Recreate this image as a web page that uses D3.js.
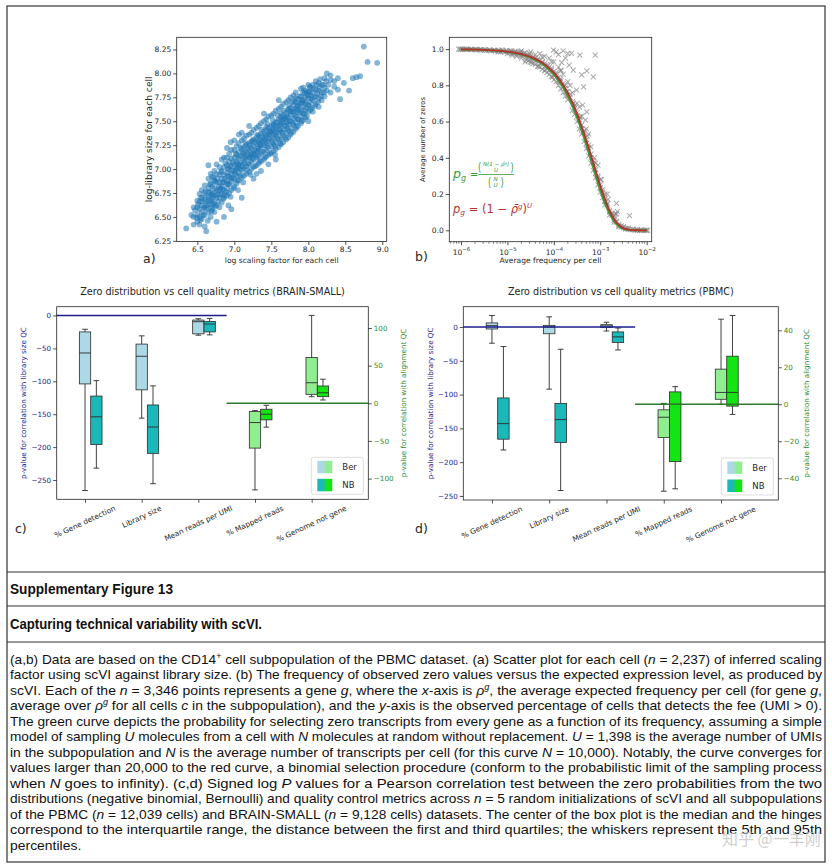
<!DOCTYPE html>
<html><head><meta charset="utf-8">
<script src="https://cdn.jsdelivr.net/npm/d3@7"></script>
<style>html,body{margin:0;padding:0;background:#fff}svg{display:block}</style>
</head><body>
<svg id="fig" width="832" height="868" xmlns="http://www.w3.org/2000/svg"></svg>
<script>
// ================= DATA =================
// (a) scatter: columns of [log scaling factor, [log library sizes...]]
const scatterCols = [
[6.35,[6.38]],[6.42,[6.52]],
[6.45,[6.42,6.50,6.60]],
[6.5,[6.45,6.52,6.60,6.67]],
[6.53,[6.42,6.50,6.58,6.66,6.74]],
[6.56,[6.48,6.55,6.62,6.70,6.78]],
[6.6,[6.40,6.52,6.60,6.68,6.75,6.83]],
[6.62,[6.35,6.58,6.72]],
[6.65,[6.55,6.63,6.71,6.80,6.90,7.04]],
[6.68,[6.50,6.60,6.68,6.76,6.85,6.95]],
[6.7,[6.58,6.66,6.74,6.82,6.92]],
[6.73,[6.55,6.64,6.72,6.80,6.88,6.98]],
[6.76,[6.45,6.62,6.70,6.78,6.86,6.95,7.05]],
[6.8,[6.60,6.70,6.78,6.86,6.94,7.02]],
[6.83,[6.65,6.74,6.82,6.90,6.98,7.10]],
[6.86,[6.50,6.70,6.78,6.86,6.94,7.02,7.12]],
[6.9,[6.72,6.80,6.88,6.96,7.04,7.12,7.22]],
[6.93,[6.75,6.84,6.92,7.00,7.08,7.16]],
[6.96,[6.58,6.78,6.87,6.95,7.03,7.11,7.20]],
[7.0,[6.82,6.90,6.98,7.05,7.12,7.20,7.30]],
[7.03,[6.85,6.93,7.01,7.08,7.15,7.24]],
[7.06,[6.88,6.96,7.04,7.11,7.18,7.27,7.36]],
[7.1,[6.70,6.91,6.99,7.07,7.14,7.21,7.30]],
[7.13,[6.93,7.01,7.09,7.16,7.23,7.32]],
[7.16,[6.95,7.03,7.11,7.18,7.25,7.35]],
[7.2,[6.97,7.05,7.13,7.20,7.27,7.36,7.45]],
[7.23,[7.00,7.08,7.15,7.22,7.29,7.38]],
[7.26,[6.90,7.02,7.10,7.17,7.24,7.31,7.41]],
[7.3,[7.04,7.12,7.19,7.26,7.33,7.43]],
[7.33,[7.06,7.14,7.21,7.28,7.35,7.45]],
[7.36,[6.98,7.08,7.16,7.23,7.30,7.37,7.48]],
[7.4,[7.10,7.18,7.25,7.32,7.39,7.50]],
[7.43,[7.13,7.20,7.27,7.34,7.41,7.52]],
[7.46,[7.05,7.15,7.22,7.29,7.36,7.43,7.55]],
[7.5,[7.17,7.24,7.31,7.38,7.45,7.56]],
[7.53,[7.19,7.26,7.33,7.40,7.47,7.58]],
[7.56,[7.10,7.21,7.28,7.35,7.42,7.49,7.61]],
[7.6,[7.23,7.31,7.38,7.45,7.52,7.63]],
[7.63,[7.26,7.33,7.40,7.47,7.54,7.65]],
[7.66,[7.28,7.35,7.42,7.49,7.56,7.68]],
[7.7,[7.31,7.38,7.45,7.52,7.59,7.70]],
[7.73,[7.33,7.40,7.47,7.54,7.61,7.72]],
[7.76,[7.36,7.43,7.50,7.57,7.64,7.75]],
[7.8,[7.39,7.46,7.53,7.60,7.67,7.77]],
[7.83,[7.42,7.49,7.56,7.63,7.70,7.80]],
[7.86,[7.45,7.52,7.59,7.66,7.73]],
[7.9,[7.48,7.55,7.62,7.69,7.76,7.84]],
[7.93,[7.51,7.58,7.65,7.72,7.80]],
[7.96,[7.54,7.61,7.68,7.75,7.82]],
[8.0,[7.50,7.60,7.67,7.74,7.81,7.88]],
[8.03,[7.62,7.70,7.77,7.85]],
[8.06,[7.60,7.72,7.80,7.88]],
[8.1,[7.68,7.76,7.83,7.92]],
[8.14,[7.65,7.74,7.82,7.90]],
[8.18,[7.72,7.80,7.88]],
[8.22,[7.76,7.85,7.95]],
[8.25,[7.82,8.00]],
[8.3,[7.80,7.93,7.98]],
[8.35,[7.86,7.92]],
[8.4,[7.83,7.95]],
[8.43,[7.73]],[8.48,[7.90]],[8.55,[7.82]],[8.6,[7.95]],[8.65,[7.96]],[8.7,[7.97]],
[8.75,[8.28]],[8.8,[8.12]],[8.93,[8.11]]
];
// (a) further cells read between the columns: [log scaling factor, log library size]
const scatterExtra = [
[6.47,6.57],[6.51,6.63],[6.54,6.47],[6.57,6.66],[6.58,6.52],[6.61,6.77],[6.63,6.62],[6.64,6.46],[6.66,6.67],[6.67,6.84],
[6.69,6.56],[6.71,6.70],[6.72,6.91],[6.74,6.61],[6.75,6.76],[6.77,6.90],[6.78,6.66],[6.79,6.82],[6.81,6.74],[6.82,6.97],
[6.84,6.86],[6.85,6.69],[6.87,6.90],[6.88,7.06],[6.89,6.76],[6.91,6.93],[6.92,6.84],[6.94,7.03],[6.95,6.71],[6.97,6.91],
[6.98,7.07],[6.99,6.80],[7.01,6.95],[7.02,7.16],[7.04,6.88],[7.05,7.02],[7.07,7.13],[7.08,6.93],[7.09,7.22],[7.11,7.03],
[7.12,6.86],[7.14,7.12],[7.15,7.27],[7.17,6.99],[7.18,7.15],[7.19,7.06],[7.21,7.25],[7.22,6.94],[7.24,7.11],[7.25,7.30],
[7.27,7.20],[7.28,7.03],[7.29,7.14],[7.31,7.36],[7.32,7.22],[7.34,7.09],[7.35,7.26],[7.37,7.41],[7.38,7.18],[7.39,7.29],
[7.41,7.12],[7.42,7.36],[7.44,7.24],[7.45,7.47],[7.47,7.32],[7.48,7.16],[7.49,7.40],[7.51,7.28],[7.52,7.51],[7.54,7.36],
[7.55,7.24],[7.57,7.44],[7.58,7.32],[7.59,7.56],[7.61,7.41],[7.62,7.27],[7.64,7.51],[7.65,7.38],[7.67,7.61],[7.68,7.45],
[7.69,7.33],[7.71,7.55],[7.72,7.42],[7.74,7.66],[7.75,7.50],[7.77,7.38],[7.78,7.60],[7.79,7.48],[7.81,7.71],[7.82,7.55],
[7.84,7.44],[7.85,7.66],[7.87,7.52],[7.88,7.76],[7.89,7.60],[7.91,7.50],[7.92,7.70],[7.94,7.58],[7.95,7.79],[7.97,7.64],
[7.98,7.55],[7.99,7.77],[8.01,7.66],[8.02,7.86],[8.04,7.74],[8.05,7.64],[8.07,7.84],[8.08,7.75],[8.09,7.66],[8.11,7.88],
[8.12,7.79],[8.13,7.70],[8.15,7.85],[8.16,7.94],[8.17,7.76],[8.2,7.88],[8.21,7.80],[8.24,7.92],[8.27,7.88],[6.55,6.70],
[6.59,6.60],[6.66,6.76],[6.71,6.63],[6.74,6.87],[6.81,6.80],[6.87,6.73],[6.91,7.00],[6.97,6.98],[7.03,7.06],[7.08,7.00],
[7.12,7.17],[7.18,7.21],[7.23,7.16],[7.28,7.28],[7.33,7.31],[7.38,7.34],[7.43,7.44],[7.48,7.39],[7.53,7.46],[7.58,7.49],
[7.63,7.58],[7.68,7.54],[7.73,7.63],[7.78,7.70],[7.83,7.74],[7.88,7.68],[7.93,7.85],[7.98,7.80],
[6.92,6.62],[7.05,6.78],[7.3,6.95],[7.55,7.15],[6.95,7.28],[7.1,7.38],[7.4,7.58],[7.6,7.72],
[6.49,6.49],[6.62,6.66],[6.69,6.73],[6.77,6.73],[6.84,6.79],[6.9,6.85],[6.96,6.9],[7.02,6.99],[7.07,7.05],[7.14,7.06],
[7.2,7.12],[7.26,7.15],[7.31,7.18],[7.36,7.25],[7.42,7.3],[7.47,7.36],[7.52,7.42],[7.57,7.38],[7.62,7.46],[7.66,7.52],
[7.71,7.49],[7.76,7.6],[7.81,7.62],[7.86,7.62],[7.91,7.72],[7.96,7.7],[8.02,7.8]
];
const aXTicks = [6.5,7.0,7.5,8.0,8.5,9.0];
const aYTicks = [6.25,6.5,6.75,7.0,7.25,7.5,7.75,8.0,8.25];

// (b) genes: [log10 average frequency, average number of zeros]
const zeroPts = [
[-6.05,1.0],[-6.0,1.0],[-5.97,0.999],[-5.93,1.0],[-5.9,0.998],[-5.85,0.999],[-5.8,0.998],[-5.75,0.997],[-5.7,0.997],[-5.65,0.996],
[-5.6,0.996],[-5.55,0.995],[-5.5,0.995],[-5.45,0.993],[-5.4,0.994],[-5.35,0.99],[-5.3,0.993],[-5.25,0.99],[-5.2,0.991],[-5.15,0.985],
[-5.1,0.99],[-5.05,0.983],[-5.0,0.986],[-4.95,0.98],[-4.9,0.983],[-4.9,0.975],[-4.85,0.978],[-4.8,0.98],[-4.8,0.97],[-4.75,0.972],
[-4.7,0.975],[-4.7,0.962],[-4.65,0.968],[-4.6,0.968],[-4.6,0.955],[-4.55,0.96],[-4.5,0.96],[-4.5,0.945],[-4.45,0.95],[-4.4,0.95],
[-4.4,0.935],[-4.35,0.94],[-4.3,0.935],[-4.3,0.92],[-4.25,0.925],[-4.2,0.92],[-4.2,0.905],[-4.15,0.905],[-4.1,0.9],[-4.1,0.88],
[-4.05,0.885],[-4.0,0.875],[-4.0,0.855],[-3.95,0.86],[-3.9,0.845],[-3.9,0.825],[-3.85,0.825],[-3.8,0.81],[-3.8,0.79],[-3.75,0.785],
[-3.7,0.765],[-3.7,0.745],[-3.65,0.735],[-3.6,0.71],[-3.6,0.69],[-3.55,0.675],[-3.5,0.65],[-3.5,0.63],[-3.45,0.61],[-3.4,0.58],
[-3.4,0.56],[-3.35,0.54],[-3.3,0.5],[-3.3,0.48],[-3.25,0.455],[-3.2,0.42],[-3.2,0.4],[-3.15,0.37],[-3.1,0.335],[-3.1,0.315],
[-3.05,0.29],[-3.0,0.25],[-3.0,0.235],[-2.95,0.21],[-2.9,0.175],[-2.9,0.16],[-2.85,0.14],[-2.8,0.11],[-2.8,0.1],[-2.75,0.085],
[-2.7,0.065],[-2.7,0.055],[-2.65,0.045],[-2.6,0.032],[-2.6,0.025],[-2.55,0.018],[-2.5,0.013],[-2.45,0.008],[-2.4,0.005],[-2.35,0.003],
[-2.3,0.002],[-2.25,0.001],[-2.2,0],[-2.15,0],[-2.1,0],[-2.05,0],[-2.0,0],
[-4.6,0.94],[-4.5,0.93],[-4.4,0.915],[-4.3,0.9],[-4.2,0.88],[-4.1,0.86],[-4.0,0.83],[-3.9,0.80],[-3.8,0.76],[-3.7,0.72],
[-3.6,0.66],[-3.5,0.60],[-3.4,0.53],[-3.3,0.45],[-3.2,0.37],[-3.1,0.29],[-3.0,0.21],[-2.9,0.14],[-2.8,0.085],[-2.7,0.045],
[-2.6,0.02],[-3.55,0.64],[-3.45,0.56],[-3.35,0.49],[-3.25,0.41],[-3.15,0.33],[-3.05,0.25],[-2.95,0.18],[-3.75,0.74],[-3.85,0.78],
[-3.95,0.82],[-4.05,0.85],[-4.15,0.87],[-4.25,0.89],[-4.35,0.905],[-4.45,0.92],[-4.55,0.935],[-4.7,0.95],[-4.8,0.96],[-4.9,0.965],
[-5.0,0.975],[-5.2,0.985],
[-4.7,0.99],[-4.5,0.985],[-4.3,0.975],[-4.1,0.95],[-3.9,0.9],[-3.7,0.82],[-3.5,0.7],[-3.3,0.56],[-3.1,0.37],[-2.9,0.2],
[-2.7,0.08],[-2.5,0.02],[-4.2,0.96],[-4.0,0.93],[-3.8,0.86],[-3.6,0.76],[-3.4,0.63],[-3.2,0.46],[-3.0,0.28],
[-4.01,0.994],[-3.62,0.976],[-3.44,0.967],[-3.11,0.967],[-3.85,0.884],[-3.67,0.912],[-3.58,0.884],[-3.40,0.857],[-3.29,0.88],[-3.15,0.847],
[-3.51,0.774],[-3.36,0.792],[-3.38,0.691],[-3.29,0.654],[-3.32,0.608],[-2.65,0.149],[-2.63,0.103],[-2.37,0.081],[-3.83,0.925],[-3.75,0.95],
[-3.9,0.97],[-3.95,0.985],[-3.8,0.99],[-3.7,0.975],
[-4.95,0.99],[-4.85,0.985],[-4.75,0.98],[-4.65,0.975],[-4.55,0.965],[-4.45,0.955],[-4.35,0.945],[-4.25,0.93],[-4.15,0.915],[-4.05,0.895],
[-3.95,0.87],[-3.85,0.835],[-3.75,0.8],[-3.65,0.75],[-3.55,0.69],[-3.45,0.625],[-3.35,0.55],[-3.25,0.47],[-3.15,0.385],[-3.05,0.3],
[-2.95,0.225],[-2.85,0.15],[-2.75,0.095],[-2.65,0.05],[-2.55,0.025],[-2.45,0.01],
[-4.62,0.93],[-4.48,0.925],[-4.33,0.905],[-4.18,0.885],[-4.03,0.845],[-3.88,0.815],[-3.73,0.765],[-3.58,0.7],[-3.43,0.625],[-3.28,0.52],
[-3.13,0.4],[-2.98,0.28],[-2.83,0.17],[-2.68,0.09],
[-4.4,0.97],[-4.25,0.955],[-4.05,0.93],[-3.85,0.88],[-3.65,0.8],[-3.45,0.68],[-3.25,0.53],[-3.05,0.36],[-2.85,0.2],[-2.65,0.09],
[-6.02,0.998],[-5.88,1.0],[-5.78,0.999],[-5.68,0.998],[-5.58,0.997],[-5.48,0.996],[-5.38,0.995],[-5.28,0.994],[-5.18,0.992],[-5.08,0.988],
[-5.12,0.995],[-5.02,0.992],[-4.92,0.99],[-4.82,0.988],[-4.72,0.985],[-4.62,0.98],[-4.52,0.975],
[-2.4,0.012],[-2.3,0.006],[-2.2,0.004],[-2.12,0.002],[-2.02,0.001],[-1.98,0.0]
];
const curveExp = [-6.0,-5.9,-5.8,-5.7,-5.6,-5.5,-5.4,-5.3,-5.2,-5.1,-5.0,-4.9,-4.8,-4.7,-4.6,-4.5,-4.4,-4.3,-4.2,-4.1,-4.0,
  -3.9,-3.8,-3.7,-3.6,-3.5,-3.4,-3.3,-3.2,-3.1,-3.0,-2.9,-2.8,-2.7,-2.6,-2.5,-2.4,-2.3,-2.2,-2.1,-2.0];
const redCurve = [0.9986,0.9982,0.9978,0.9972,0.9965,0.9956,0.9944,0.9930,0.9912,0.9890,0.9861,0.9826,0.9781,0.9725,0.9655,0.9568,0.9459,0.9323,0.9156,0.8949,0.8695,
  0.8386,0.8012,0.7566,0.7039,0.6427,0.5731,0.4963,0.4139,0.3294,0.2471,0.1720,0.1090,0.0615,0.0299,0.0120,0.0038,0.0009,0.0001,0,0];
const greenCurve = [0.9985,0.9981,0.9976,0.9970,0.9962,0.9953,0.9940,0.9925,0.9905,0.9881,0.9851,0.9812,0.9764,0.9704,0.9629,0.9535,0.9418,0.9273,0.9094,0.8873,0.8602,
  0.8273,0.7877,0.7405,0.6850,0.6211,0.5491,0.4701,0.3866,0.3023,0.2218,0.1502,0.0919,0.0496,0.0228,0.0086,0.0025,0.0005,0.0001,0,0];
const bXTicks = [-6,-5,-4,-3,-2];
const bYTicks = [0,0.2,0.4,0.6,0.8,1.0];

// (c,d) box stats: [whisker low, Q1, median, Q3, whisker high]
const categories = ["% Gene detection","Library size","Mean reads per UMI","% Mapped reads","% Genome not gene"];
const brainBer = [[-266,-104,-57,-25,-21],[-156,-113,-62,-43.5,-31],[-30,-28,-9.5,-7,-5],[-115,-59.5,-25.6,-11,-9.7],[8.8,11.9,27.3,60.8,116.7]];
const brainNB  = [[-232,-196,-154,-122.5,-99],[-255.6,-209.5,-169.5,-136,-107],[-29.5,-25,-13,-9,-4.5],[-31.7,-22,-14.5,-7.9,-2.6],[4.4,8.8,14,23,32]];
const pbmcBer  = [[-24,-3,2,6,17],[-92,-10,0,2.4,15],[-6,-1,1.5,3.4,7],[-47,-18,-7,-3,0.5],[0,2.7,6.4,19,46]];
const pbmcNB   = [[-182,-166,-143,-105,-29],[-242,-171,-137,-113,-33],[-34,-23,-14.6,-7.3,-1.5],[-45.7,-31,0,6.7,9.5],[-5.5,-1,6.4,26,48]];
const libTicks = [0,-50,-100,-150,-200,-250];
const alnTicksC = [100,50,0,-50,-100];
const alnTicksD = [40,20,0,-20,-40];
const legendLabels = ["Ber","NB"];

const captionLines = [
"(a,b) Data are based on the CD14^{+} cell subpopulation of the PBMC dataset. (a) Scatter plot for each cell (*n* = 2,237) of inferred scaling",
"factor using scVI against library size. (b) The frequency of observed zero values versus the expected expression level, as produced by",
"scVI. Each of the *n* = 3,346 points represents a gene *g*, where the *x*-axis is *ρ*^{g}, the average expected frequency per cell (for gene *g*,",
"average over *ρ*^{g} for all cells *c* in the subpopulation), and the *y*-axis is the observed percentage of cells that detects the fee (UMI > 0).",
"The green curve depicts the probability for selecting zero transcripts from every gene as a function of its frequency, assuming a simple",
"model of sampling *U* molecules from a cell with *N* molecules at random without replacement. *U* = 1,398 is the average number of UMIs",
"in the subpopulation and *N* is the average number of transcripts per cell (for this curve *N* = 10,000). Notably, the curve converges for",
"values larger than 20,000 to the red curve, a binomial selection procedure (conform to the probabilistic limit of the sampling process",
"when *N* goes to infinity).  (c,d) Signed log *P* values for a Pearson correlation test between the zero probabilities from the two",
"distributions (negative binomial, Bernoulli) and quality control metrics across *n* = 5 random initializations of scVI and all subpopulations",
"of the PBMC (*n* = 12,039 cells) and BRAIN-SMALL (*n* = 9,128 cells) datasets. The center of the box plot is the median and the hinges",
"correspond to the interquartile range, the distance between the first and third quartiles; the whiskers represent the 5th and 95th",
"percentiles."
];

// ================= DRAWING =================
const svg = d3.select("#fig");
const F = "'DejaVu Sans', Verdana, sans-serif";
const NF = "'Liberation Sans', Arial, sans-serif";
const INK = "#262626";
const NAVY = "#24248c", GREEN = "#2e8b2e";

function label(g, text, x, y, size, o = {}) {
  const t = g.append("text").attr("x", 0).attr("y", 0)
    .attr("font-family", o.family || F).attr("font-size", size)
    .attr("text-anchor", o.anchor || "middle").attr("dominant-baseline", o.baseline || "central")
    .attr("fill", o.fill || INK)
    .attr("transform", `translate(${x},${y})` + (o.rot ? ` rotate(${o.rot})` : ""))
    .text(text);
  if (o.weight) t.attr("font-weight", o.weight);
  if (o.width) { const l = t.node().getComputedTextLength(); t.attr("font-size", size * o.width / l); }
  return t;
}
function styleAxis(g, size, color) {
  g.attr("font-family", F).attr("font-size", size);
  g.select(".domain").remove();
  g.selectAll(".tick line").attr("stroke", INK).attr("stroke-width", 0.8);
  g.selectAll(".tick text").attr("fill", color || INK);
}
function frame(g, P) {
  g.append("rect").attr("x", P.x0).attr("y", P.y0).attr("width", P.x1 - P.x0).attr("height", P.y1 - P.y0)
    .attr("fill", "none").attr("stroke", INK).attr("stroke-width", 0.8);
}

// page frame and rules
svg.append("rect").attr("x", 7).attr("y", 6).attr("width", 818).attr("height", 856)
  .attr("fill", "none").attr("stroke", "#333").attr("stroke-width", 1.2);
[572, 606, 642].forEach(y => svg.append("line").attr("x1", 7).attr("x2", 825).attr("y1", y).attr("y2", y)
  .attr("stroke", "#333").attr("stroke-width", 1.2));

// ---------- panel a ----------
{
  const P = {x0: 176.7, x1: 386.7, y0: 37.3, y1: 241.5};
  const g = svg.append("g");
  const x = d3.scaleLinear().domain([6.221, 9.059]).range([P.x0, P.x1]);
  const y = d3.scaleLinear().domain([6.243, 8.377]).range([P.y1, P.y0]);
  const pts = scatterCols.flatMap(([a, ys]) => ys.map(b => [a, b])).concat(scatterExtra);
  g.selectAll("circle").data(pts).join("circle")
    .attr("cx", d => x(d[0])).attr("cy", d => y(d[1])).attr("r", 2.9)
    .attr("fill", "#1f77b4").attr("fill-opacity", 0.55);
  frame(g, P);
  styleAxis(g.append("g").attr("transform", `translate(0,${P.y1})`)
    .call(d3.axisBottom(x).tickValues(aXTicks).tickFormat(d3.format(".1f")).tickSize(3.5).tickPadding(2)), 7.5);
  styleAxis(g.append("g").attr("transform", `translate(${P.x0},0)`)
    .call(d3.axisLeft(y).tickValues(aYTicks).tickFormat(d3.format(".2f")).tickSize(3.5).tickPadding(2)), 7.5);
  label(g, "log scaling factor for each cell", (P.x0 + P.x1) / 2, 260, 7.5, {width: 114});
  label(g, "log-library size for each cell", 149, (P.y0 + P.y1) / 2, 7.5, {rot: -90, width: 126});
  label(g, "a)", 143, 258, 12.5, {anchor: "start"});
}

// ---------- panel b ----------
{
  const P = {x0: 449.3, x1: 651.7, y0: 37.3, y1: 241.7};
  const g = svg.append("g");
  const x = d3.scaleLog().domain([Math.pow(10, -6.252), Math.pow(10, -1.892)]).range([P.x0, P.x1]);
  const y = d3.scaleLinear().domain([-0.063, 1.065]).range([P.y1, P.y0]);
  g.selectAll("path.m").data(zeroPts).join("path").attr("class", "m")
    .attr("d", "M-2.5,-2.5L2.5,2.5M-2.5,2.5L2.5,-2.5")
    .attr("transform", d => `translate(${x(Math.pow(10, d[0]))},${y(d[1])})`)
    .attr("stroke", "#808080").attr("stroke-opacity", 0.65).attr("stroke-width", 1.05).attr("fill", "none");
  const line = d3.line().x((d, i) => x(Math.pow(10, curveExp[i]))).y(d => y(d)).curve(d3.curveMonotoneX);
  g.append("path").attr("d", line(greenCurve)).attr("fill", "none").attr("stroke", "#3a9a3a").attr("stroke-width", 2);
  g.append("path").attr("d", line(redCurve)).attr("fill", "none").attr("stroke", "#b8322e").attr("stroke-width", 1.8);
  frame(g, P);
  const gx = g.append("g").attr("transform", `translate(0,${P.y1})`)
    .call(d3.axisBottom(x).tickValues(bXTicks.map(e => Math.pow(10, e))).tickFormat("").tickSize(3.5));
  styleAxis(gx, 7.5);
  gx.selectAll(".tick").each(function (d, i) {
    const t = d3.select(this).append("text").attr("y", 13).attr("text-anchor", "middle").attr("fill", INK);
    t.append("tspan").text("10");
    t.append("tspan").attr("dy", -3.5).attr("font-size", 5.3).text("−" + (-bXTicks[i]));
  });
  for (let e = -7; e <= -2; e++) for (let m = 2; m <= 9; m++) {
    const v = m * Math.pow(10, e);
    if (v > x.domain()[0] && v < x.domain()[1])
      g.append("line").attr("x1", x(v)).attr("x2", x(v)).attr("y1", P.y1).attr("y2", P.y1 + 2)
        .attr("stroke", INK).attr("stroke-width", 0.6);
  }
  styleAxis(g.append("g").attr("transform", `translate(${P.x0},0)`)
    .call(d3.axisLeft(y).tickValues(bYTicks).tickFormat(d3.format(".1f")).tickSize(3.5).tickPadding(2)), 7.5);
  label(g, "Average frequency per cell", (P.x0 + P.x1) / 2, 260, 7.5, {width: 102});
  label(g, "Average number of zeros", 423, (P.y0 + P.y1) / 2, 7.5, {rot: -90, width: 85});
  label(g, "b)", 415, 256, 12.5, {anchor: "start"});
  // formulas
  const GC = "#3a9a3a";
  const fg = g.append("g").attr("fill", GC).attr("font-family", F);
  const p1 = fg.append("text").attr("x", 453).attr("y", 178).attr("font-size", 12.5).attr("font-style", "italic");
  p1.append("tspan").text("p"); p1.append("tspan").attr("font-size", 8).attr("dy", 2.5).text("g");
  fg.append("text").attr("x", 470).attr("y", 178).attr("font-size", 10).text("=");
  fg.append("line").attr("x1", 478).attr("x2", 514).attr("y1", 174.5).attr("y2", 174.5).attr("stroke", GC).attr("stroke-width", 0.8);
  const paren = (ch, px, py) => fg.append("text").attr("x", px).attr("y", py).attr("font-size", 12.5)
    .attr("transform", `translate(${px},${py}) scale(0.65,1) translate(${-px},${-py})`).text(ch);
  paren("(", 478, 172); paren(")", 510.5, 172);
  fg.append("text").attr("x", 496).attr("y", 166).attr("font-size", 5.6).attr("text-anchor", "middle").attr("font-style", "italic").text("N(1 − ρ̄ᵍ)");
  fg.append("text").attr("x", 496).attr("y", 172).attr("font-size", 5.6).attr("text-anchor", "middle").attr("font-style", "italic").text("U");
  paren("(", 488, 187); paren(")", 500.5, 187);
  fg.append("text").attr("x", 495.5).attr("y", 181).attr("font-size", 5.6).attr("text-anchor", "middle").attr("font-style", "italic").text("N");
  fg.append("text").attr("x", 495.5).attr("y", 187).attr("font-size", 5.6).attr("text-anchor", "middle").attr("font-style", "italic").text("U");
  const rt = g.append("text").attr("x", 453).attr("y", 212.5).attr("font-size", 11.5).attr("font-family", F).attr("fill", "#b8322e");
  rt.append("tspan").attr("font-style", "italic").text("p");
  rt.append("tspan").attr("font-style", "italic").attr("font-size", 7.5).attr("dy", 2.5).text("g");
  rt.append("tspan").attr("dy", -2.5).text(" = (1 − ");
  rt.append("tspan").attr("font-style", "italic").text("ρ̄");
  rt.append("tspan").attr("font-style", "italic").attr("font-size", 7).attr("dy", -4).text("g");
  rt.append("tspan").attr("dy", 4).text(")");
  rt.append("tspan").attr("font-style", "italic").attr("font-size", 7).attr("dy", -4.5).text("U");
}

// ---------- panels c & d ----------
const defs = svg.append("defs");
function grad(id, c1, c2) {
  const lg = defs.append("linearGradient").attr("id", id).attr("x1", "0").attr("x2", "1").attr("y1", "0").attr("y2", "0");
  lg.append("stop").attr("offset", "0.35").attr("stop-color", c1);
  lg.append("stop").attr("offset", "0.65").attr("stop-color", c2);
}
const COL = {berLib: "#add8e6", nbLib: "#1ab8b8", berAln: "#90ee90", nbAln: "#14e414"};
grad("gBer", COL.berLib, COL.berAln);
grad("gNB", COL.nbLib, COL.nbAln);

function boxPanel(P) {
  const g = svg.append("g");
  const x = d3.scaleLinear().domain([0.5, 6.0]).range([P.x0, P.x1]);
  const yL = d3.scaleLinear().domain(P.left).range([P.y1, P.y0]);
  const yR = d3.scaleLinear().domain(P.right).range([P.y1, P.y0]);
  const bw = x(0.2) - x(0), cw = bw * 0.5;
  categories.forEach((c, i) => {
    const alt = i >= 3, y = alt ? yR : yL;
    [[P.ber[i], alt ? COL.berAln : COL.berLib, 0], [P.nb[i], alt ? COL.nbAln : COL.nbLib, 0.2]].forEach(([s, col, off]) => {
      const cx = x(i + 1 + off);
      const st = l => l.attr("stroke", "#2b2b2b").attr("stroke-width", 0.9);
      st(g.append("line").attr("x1", cx).attr("x2", cx).attr("y1", y(s[0])).attr("y2", y(s[1])));
      st(g.append("line").attr("x1", cx).attr("x2", cx).attr("y1", y(s[3])).attr("y2", y(s[4])));
      st(g.append("line").attr("x1", cx - cw / 2).attr("x2", cx + cw / 2).attr("y1", y(s[0])).attr("y2", y(s[0])));
      st(g.append("line").attr("x1", cx - cw / 2).attr("x2", cx + cw / 2).attr("y1", y(s[4])).attr("y2", y(s[4])));
      g.append("rect").attr("x", cx - bw / 2).attr("y", y(s[3])).attr("width", bw).attr("height", Math.max(0.8, y(s[1]) - y(s[3])))
        .attr("fill", col).attr("stroke", "#2b2b2b").attr("stroke-width", 0.8);
      st(g.append("line").attr("x1", cx - bw / 2).attr("x2", cx + bw / 2).attr("y1", y(s[2])).attr("y2", y(s[2])));
    });
  });
  g.append("line").attr("x1", x(0.5)).attr("x2", x(3.5)).attr("y1", yL(0)).attr("y2", yL(0)).attr("stroke", "#1c1c8c").attr("stroke-width", 1.5);
  g.append("line").attr("x1", x(3.5)).attr("x2", x(6.0)).attr("y1", yR(0)).attr("y2", yR(0)).attr("stroke", "#2f7a2f").attr("stroke-width", 1.5);
  frame(g, P);
  styleAxis(g.append("g").attr("transform", `translate(${P.x0},0)`)
    .call(d3.axisLeft(yL).tickValues(libTicks).tickSize(3.5).tickPadding(2)), 7.2, NAVY);
  styleAxis(g.append("g").attr("transform", `translate(${P.x1},0)`)
    .call(d3.axisRight(yR).tickValues(P.alnTicks).tickSize(3.5).tickPadding(2)), 7.2, GREEN);
  styleAxis(g.append("g").attr("transform", `translate(0,${P.y1})`)
    .call(d3.axisBottom(x).tickValues([1, 2, 3, 4, 5]).tickFormat("").tickSize(3.5)), 7.4);
  const th = 25 * Math.PI / 180, fs = 7.4;
  categories.forEach((c, i) => {
    const t = g.append("text").attr("font-family", F).attr("font-size", fs).attr("fill", INK)
      .attr("text-anchor", "middle").attr("dominant-baseline", "central").text(c);
    const L = t.node().getComputedTextLength();
    const half = (L * Math.sin(th) + fs * 1.05 * Math.cos(th)) / 2;
    t.attr("transform", `translate(${x(i + 1)},${P.y1 + 5 + half}) rotate(-25)`);
  });
  label(g, P.title, (P.x0 + P.x1) / 2, 291.7, 8.5, {width: P.titleW});
  label(g, "p-value for correlation with library size QC", P.lx, (P.y0 + P.y1) / 2, 7.2, {rot: -90, fill: NAVY});
  label(g, "p-value for correlation with alignment QC", P.rx, (P.y0 + P.y1) / 2, 7.2, {rot: -90, fill: GREEN});
  label(g, P.tag, P.tagX, P.tagY, 12.5, {anchor: "start"});
  const lg = g.append("g").attr("transform", `translate(${P.x1 - 5 - 52},${P.y1 - 5 - 37})`);
  lg.append("rect").attr("width", 52).attr("height", 37).attr("rx", 2).attr("fill", "#fff").attr("fill-opacity", 0.85)
    .attr("stroke", "#d4d4d4").attr("stroke-width", 0.8);
  ["gBer", "gNB"].forEach((id, k) => {
    lg.append("rect").attr("x", 6).attr("y", 3.5 + k * 18).attr("width", 15).attr("height", 12.5).attr("fill", `url(#${id})`);
    lg.append("text").attr("x", 31).attr("y", 10 + k * 18).attr("font-family", F).attr("font-size", 8.5)
      .attr("dominant-baseline", "central").attr("fill", INK).text(legendLabels[k]);
  });
}
boxPanel({x0: 56.7, x1: 368.3, y0: 306.7, y1: 499.3, left: [-279.3, 13.3], right: [-127.5, 128.3],
  ber: brainBer, nb: brainNB, alnTicks: alnTicksC, title: "Zero distribution vs cell quality metrics (BRAIN-SMALL)", titleW: 265,
  lx: 23.5, rx: 403.3, tag: "c)", tagX: 15, tagY: 528});
boxPanel({x0: 463.3, x1: 778.3, y0: 306.7, y1: 500, left: [-256, 30], right: [-51.75, 52.75],
  ber: pbmcBer, nb: pbmcNB, alnTicks: alnTicksD, title: "Zero distribution vs cell quality metrics (PBMC)", titleW: 226,
  lx: 430, rx: 806.5, tag: "d)", tagX: 415, tagY: 528});

// ---------- caption ----------
svg.append("text").attr("x", 10).attr("y", 593.5).attr("font-family", NF).attr("font-weight", "bold")
  .attr("font-size", 13.8).attr("fill", "#111").attr("textLength", 163).attr("lengthAdjust", "spacingAndGlyphs")
  .text("Supplementary Figure 13");
svg.append("text").attr("x", 10).attr("y", 628.5).attr("font-family", NF).attr("font-weight", "bold")
  .attr("font-size", 13.8).attr("fill", "#111").attr("textLength", 252).attr("lengthAdjust", "spacingAndGlyphs")
  .text("Capturing technical variability with scVI.");
function richLine(t, str) {
  str.split(/(\*[^*]+\*|\^\{[^}]+\})/).filter(s => s.length).forEach(p => {
    if (p[0] === "*") t.append("tspan").attr("font-style", "italic").text(p.slice(1, -1));
    else if (p.startsWith("^{")) {
      const s = p.slice(2, -1);
      const ts = t.append("tspan").attr("baseline-shift", "super").attr("font-size", "65%").text(s);
      if (/[a-z]/i.test(s)) ts.attr("font-style", "italic");
    } else t.append("tspan").text(p);
  });
}
const capG = svg.append("g").attr("font-family", NF).attr("fill", "#111");
const texts = captionLines.map((s, i) => {
  const t = capG.append("text").attr("x", 10).attr("y", 663.5 + i * 15.5).attr("font-size", 13.3);
  richLine(t, s);
  return t;
});
const nat = texts.map(t => t.node().getComputedTextLength());
const sq = 812 / d3.mean(nat.slice(0, -1));
texts.forEach((t, i) => {
  const L = i < texts.length - 1 ? 812 : nat[i] * sq;
  t.attr("textLength", L).attr("lengthAdjust", "spacingAndGlyphs");
});
// watermark
svg.append("text").attr("x", 722).attr("y", 845).attr("font-family", "'Noto Sans CJK SC',sans-serif")
  .attr("font-size", 16).attr("fill", "#bdbdbd").attr("fill-opacity", 0.75).text("知乎 @一羊刚");
</script>
</body></html>
